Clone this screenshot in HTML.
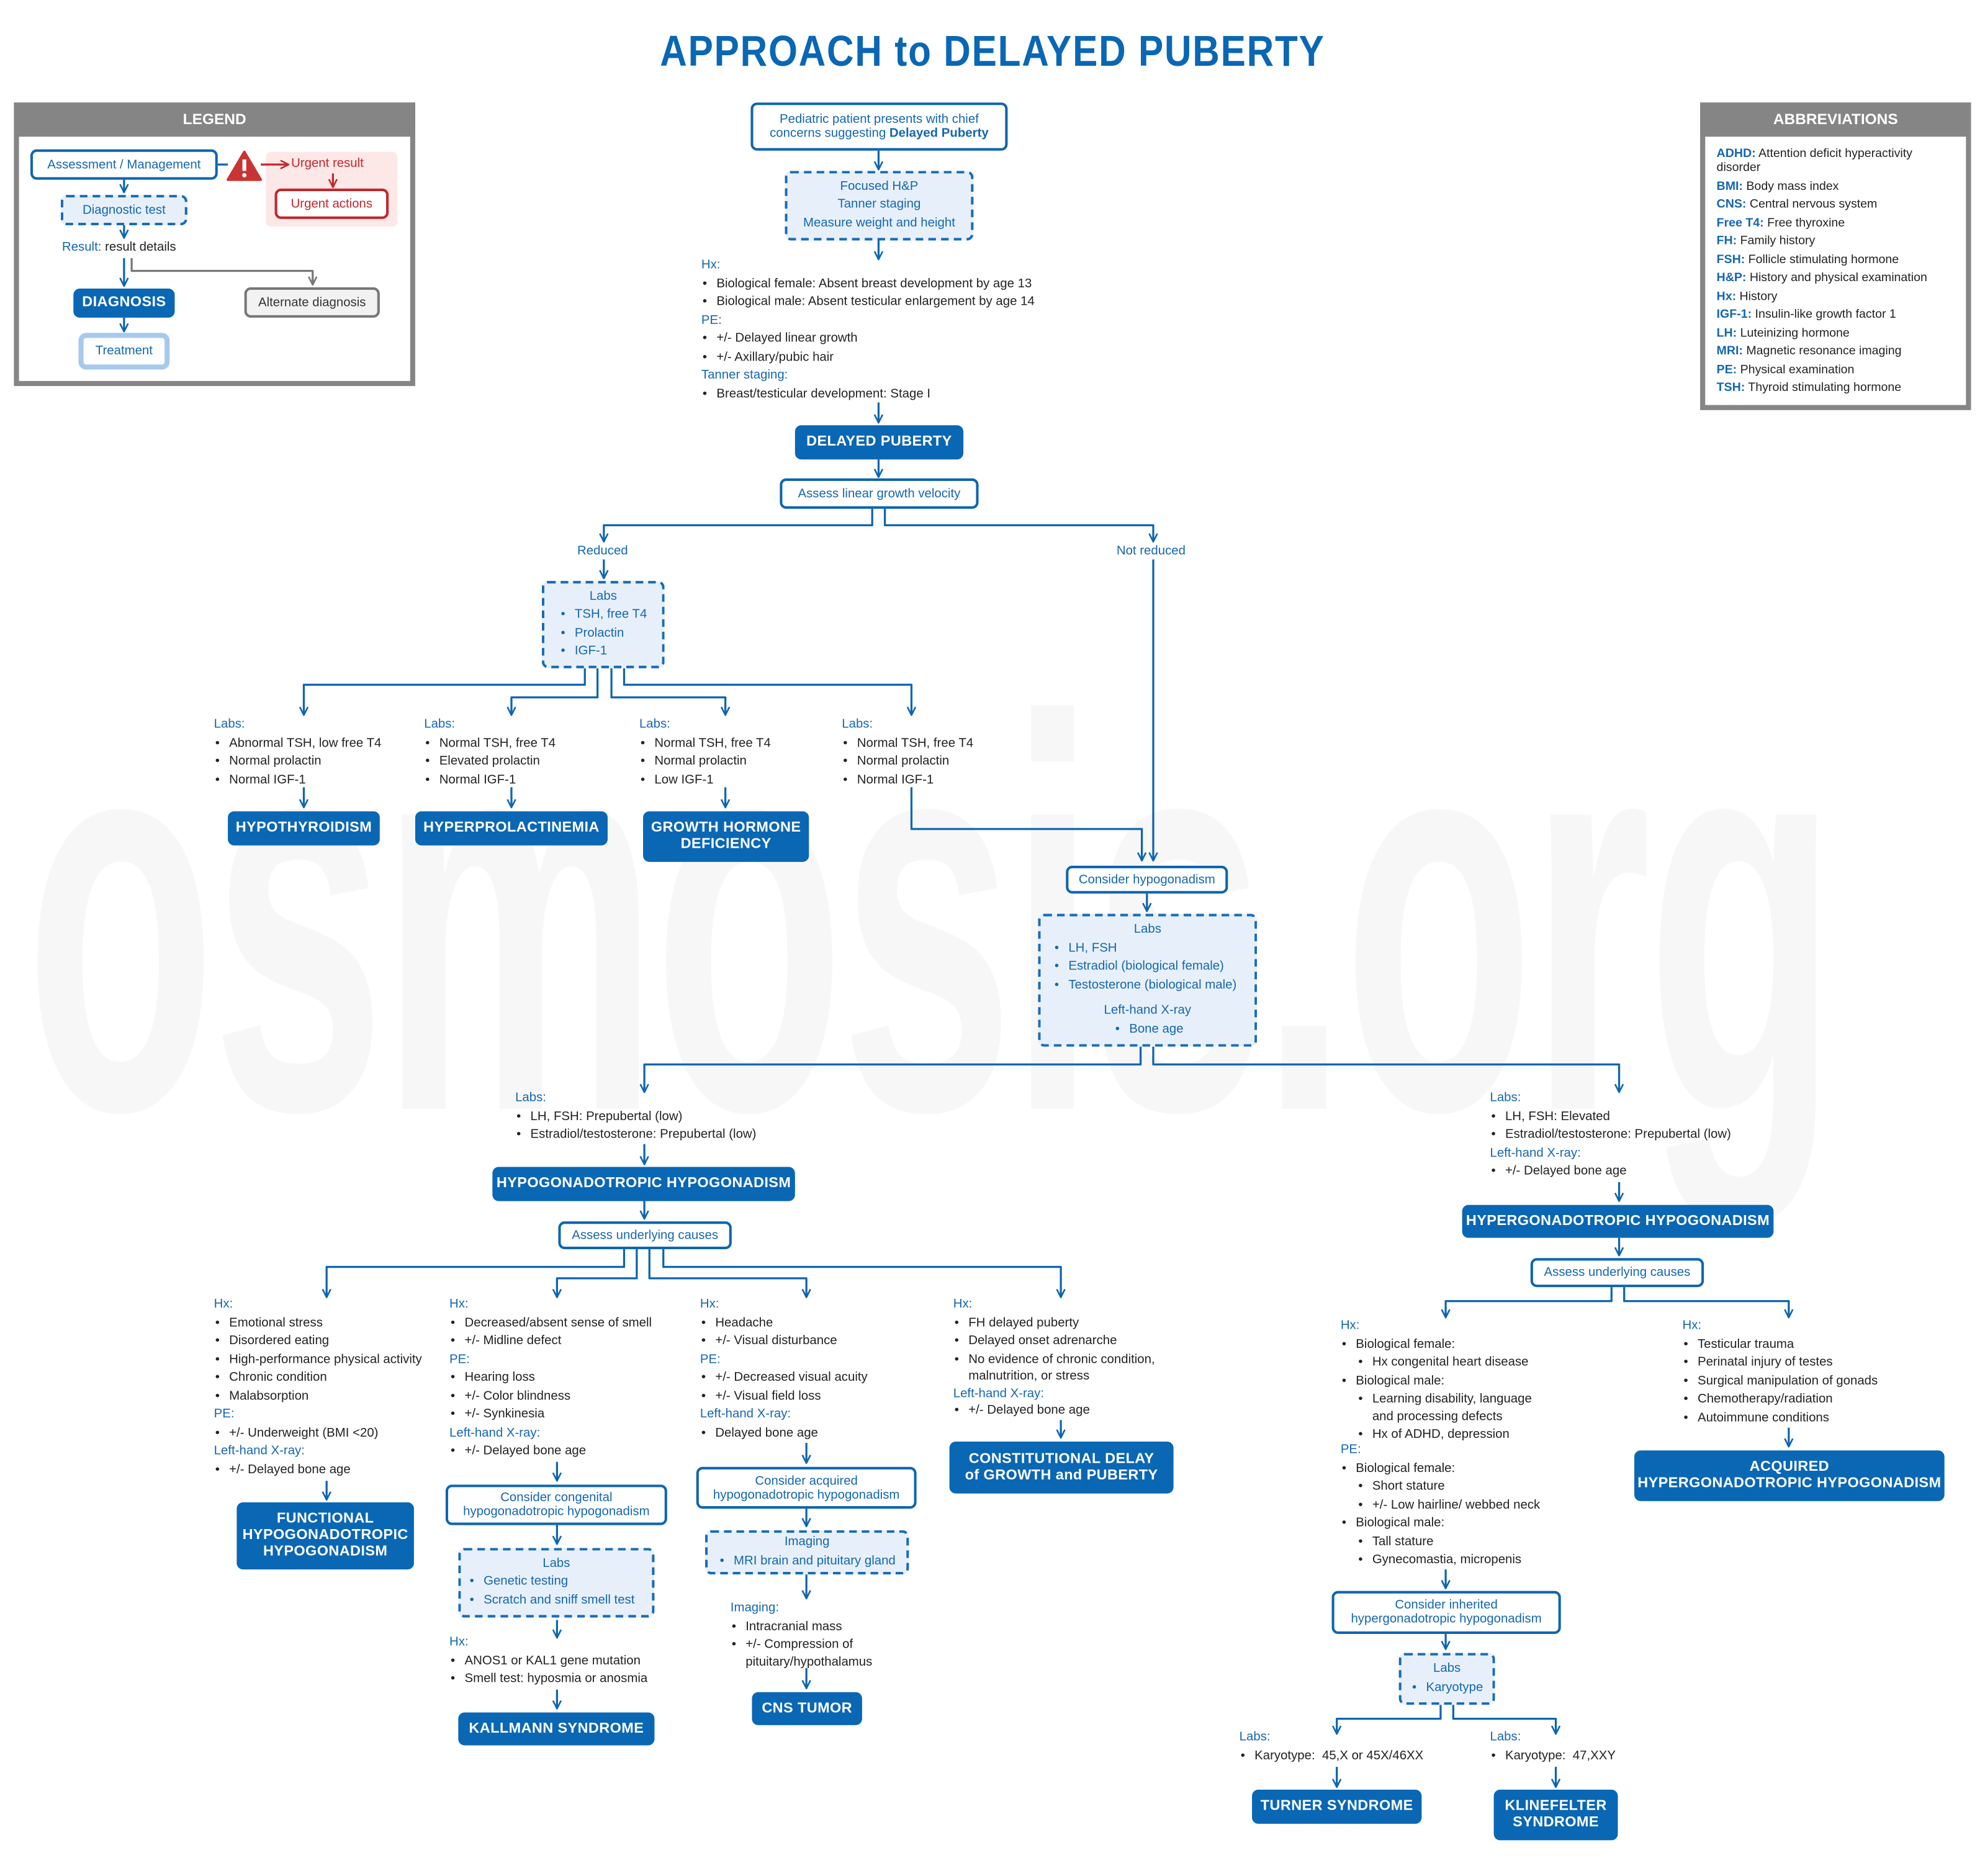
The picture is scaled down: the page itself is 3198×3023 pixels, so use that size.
<!DOCTYPE html>
<html><head><meta charset="utf-8"><style>
*{margin:0;padding:0;box-sizing:border-box}
html,body{width:3198px;height:3023px;overflow:hidden;background:#fff}
#s{position:absolute;left:0;top:0;width:1568px;height:1482px;overflow:hidden;transform:scale(2.0395);transform-origin:0 0;font-family:"Liberation Sans",sans-serif;color:#222}
.wm{position:absolute;left:20px;top:505px;font:bold 440px/1 "Liberation Sans",sans-serif;color:#f7f7f7;letter-spacing:-6px;white-space:nowrap;transform:scaleX(.56);transform-origin:0 0}
.blk{position:absolute;font-size:10px;line-height:14.5px;white-space:nowrap}
.blk div{height:14.5px}
.h{color:#1566b0}
.b{padding-left:12px;position:relative}
.b:before{content:"•";position:absolute;left:1px}
.sb{padding-left:25px;position:relative}
.sb:before{content:"•";position:absolute;left:14px}
.blk .c{padding-left:12px;height:11px;line-height:11px}
.blk .sc{padding-left:25px;height:11px;line-height:11px}
.bl{color:#1566b0}
.box{position:absolute;display:flex;flex-direction:column;align-items:center;justify-content:center;text-align:center;border:2px solid #0e65b0;border-radius:5px;background:#fff;color:#1566b0;font-size:10px;line-height:11px}
.dash{border:2px dashed #1a6cb6;background:#e7f0fa}
.fill{background:#0a67b4;border-color:#0a67b4;color:#fff;font-weight:bold;font-size:11.5px;line-height:13px;letter-spacing:.2px}
.lab{position:absolute;font-size:10px;color:#1566b0;white-space:nowrap}
</style></head><body><div id="s">
<div class="wm">osmosis.org</div>

<div style="position:absolute;left:0;top:22px;width:1568px;text-align:center;font:bold 34px/38px 'Liberation Sans',sans-serif;color:#0a67b4;letter-spacing:1px;transform:scaleX(.87)">APPROACH to DELAYED PUBERTY</div>

<!-- Legend -->
<div style="position:absolute;left:11px;top:81px;width:317px;height:224px;border:4px solid #858585;background:#fff"></div>
<div style="position:absolute;left:11px;top:81px;width:317px;height:27px;background:#858585;color:#fff;font-weight:bold;font-size:12px;line-height:27px;text-align:center">LEGEND</div>
<div class="box" style="left:24px;top:118px;width:148px;height:24px">Assessment / Management</div>
<div style="position:absolute;left:210px;top:120px;width:104px;height:59px;background:#fde8e8;border-radius:4px"></div>
<svg style="position:absolute;left:178px;top:118px" width="30" height="26"><path d="M15 2 L28 24 L2 24 Z" fill="#c83434" stroke="#c83434" stroke-linejoin="round" stroke-width="2"/><rect x="13.5" y="8" width="3" height="9" fill="#fff"/><circle cx="15" cy="20.5" r="1.7" fill="#fff"/></svg>
<div class="lab" style="left:230px;top:124px;color:#c3262b">Urgent result</div>
<div class="box" style="left:217px;top:149px;width:90px;height:24px;border-color:#c3262b;color:#c3262b">Urgent actions</div>
<div class="box dash" style="left:48px;top:154px;width:100px;height:24px">Diagnostic test</div>
<div class="lab" style="left:49px;top:190px;color:#222"><span class="bl">Result:</span> result details</div>
<div class="box fill" style="left:58px;top:228px;width:80px;height:23px">DIAGNOSIS</div>
<div class="box" style="left:62px;top:263px;width:72px;height:29px;border:4px solid #a6c9ee;border-radius:6px">Treatment</div>
<div class="box" style="left:193px;top:227px;width:107px;height:24px;border-color:#777;background:#f2f2f2;color:#333">Alternate diagnosis</div>

<!-- Abbreviations -->
<div style="position:absolute;left:1343px;top:81px;width:214px;height:243px;border:4px solid #858585;background:#fff"></div>
<div style="position:absolute;left:1343px;top:81px;width:214px;height:27px;background:#858585;color:#fff;font-weight:bold;font-size:12px;line-height:27px;text-align:center">ABBREVIATIONS</div>
<div class="blk" style="left:1356px;top:115px;font-size:9.6px">
<div><b class="bl">ADHD:</b> Attention deficit hyperactivity</div>
<div style="height:11px;line-height:6px">disorder</div>
<div><b class="bl">BMI:</b> Body mass index</div>
<div><b class="bl">CNS:</b> Central nervous system</div>
<div><b class="bl">Free T4:</b> Free thyroxine</div>
<div><b class="bl">FH:</b> Family history</div>
<div><b class="bl">FSH:</b> Follicle stimulating hormone</div>
<div><b class="bl">H&amp;P:</b> History and physical examination</div>
<div><b class="bl">Hx:</b> History</div>
<div><b class="bl">IGF-1:</b> Insulin-like growth factor 1</div>
<div><b class="bl">LH:</b> Luteinizing hormone</div>
<div><b class="bl">MRI:</b> Magnetic resonance imaging</div>
<div><b class="bl">PE:</b> Physical examination</div>
<div><b class="bl">TSH:</b> Thyroid stimulating hormone</div>
</div>

<!-- connectors -->
<svg style="position:absolute;left:0;top:0" width="1568" height="1482" fill="none" stroke="#0e65b0" stroke-width="1.6" stroke-linejoin="round">
<defs><marker id="a" viewBox="0 0 10 10" refX="9" refY="5" markerWidth="8" markerHeight="8" markerUnits="userSpaceOnUse" orient="auto"><path d="M1 1 L9 5 L1 9" fill="none" stroke="#0e65b0" stroke-width="1.6"/></marker>
<marker id="r" viewBox="0 0 10 10" refX="9" refY="5" markerWidth="8" markerHeight="8" markerUnits="userSpaceOnUse" orient="auto"><path d="M1 1 L9 5 L1 9" fill="none" stroke="#c3262b" stroke-width="1.6"/></marker>
<marker id="g" viewBox="0 0 10 10" refX="9" refY="5" markerWidth="8" markerHeight="8" markerUnits="userSpaceOnUse" orient="auto"><path d="M1 1 L9 5 L1 9" fill="none" stroke="#777" stroke-width="1.6"/></marker></defs>
<g marker-end="url(#a)">
<path d="M98 142V152"/><path d="M98 178V188"/><path d="M98 204V226"/><path d="M98 251V262"/>
<path d="M694 119V134"/><path d="M694 190V205"/><path d="M694 318V334"/><path d="M694 363V377"/>
<path d="M689 402V415H477V428"/><path d="M699 402V415H911V428"/>
<path d="M477 442V457"/>
<path d="M462 528V541H240V565"/><path d="M472 528V551H404V565"/><path d="M483 528V551H573V565"/><path d="M493 528V541H720V565"/>
<path d="M240 622V638"/><path d="M404 622V638"/><path d="M573 622V638"/>
<path d="M720 622V655H902V680"/><path d="M911 442V680"/>
<path d="M906 706V720"/>
<path d="M901 827V841H509V863"/><path d="M911 827V841H1279V863"/>
<path d="M509 904V920"/><path d="M509 949V963"/>
<path d="M493 987V1001H258V1025"/><path d="M503 987V1010H440V1025"/><path d="M513 987V1010H637V1025"/><path d="M524 987V1001H838V1025"/>
<path d="M258 1170V1185"/><path d="M440 1155V1170"/><path d="M440 1205V1220"/><path d="M440 1280V1294"/><path d="M440 1335V1350"/>
<path d="M637 1140V1156"/><path d="M637 1192V1206"/><path d="M637 1244V1263"/><path d="M637 1318V1334"/>
<path d="M838 1122V1136"/>
<path d="M1279 934V949"/><path d="M1279 978V992"/>
<path d="M1273 1017V1028H1142V1041"/><path d="M1283 1017V1028H1413V1041"/>
<path d="M1142 1240V1255"/><path d="M1142 1291V1303"/>
<path d="M1138 1347V1358H1056V1370"/><path d="M1148 1347V1358H1229V1370"/>
<path d="M1056 1396V1412"/><path d="M1229 1396V1412"/><path d="M1413 1128V1143"/>
</g>
<path d="M172 130H180"/>
<path d="M206 130H228" stroke="#c3262b" marker-end="url(#r)"/>
<path d="M263 137V148" stroke="#c3262b" marker-end="url(#r)"/>
<path d="M104 204V214H247V225" stroke="#777" marker-end="url(#g)"/>
</svg>

<!-- main nodes -->
<div class="box" style="left:593px;top:81px;width:203px;height:38px"><div>Pediatric patient presents with chief</div><div>concerns suggesting <b>Delayed Puberty</b></div></div>
<div class="box dash" style="left:620px;top:135px;width:149px;height:55px;line-height:14.5px"><div>Focused H&amp;P</div><div>Tanner staging</div><div>Measure weight and height</div></div>
<div class="blk" style="left:554px;top:203px">
<div class="h">Hx:</div><div class="b">Biological female: Absent breast development by age 13</div><div class="b">Biological male: Absent testicular enlargement by age 14</div>
<div class="h">PE:</div><div class="b">+/- Delayed linear growth</div><div class="b">+/- Axillary/pubic hair</div>
<div class="h">Tanner staging:</div><div class="b">Breast/testicular development: Stage I</div></div>
<div class="box fill" style="left:628px;top:336px;width:133px;height:27px">DELAYED PUBERTY</div>
<div class="box" style="left:616px;top:378px;width:157px;height:24px">Assess linear growth velocity</div>
<div class="lab" style="left:456px;top:430px">Reduced</div>
<div class="lab" style="left:882px;top:430px">Not reduced</div>
<div class="box dash" style="left:428px;top:459px;width:97px;height:69px;align-items:flex-start;padding-left:12px;line-height:14.5px"><div style="align-self:center;margin-left:-12px">Labs</div><div class="b">TSH, free T4</div><div class="b">Prolactin</div><div class="b">IGF-1</div></div>

<div class="blk" style="left:169px;top:566px"><div class="h">Labs:</div><div class="b">Abnormal TSH, low free T4</div><div class="b">Normal prolactin</div><div class="b">Normal IGF-1</div></div>
<div class="blk" style="left:335px;top:566px"><div class="h">Labs:</div><div class="b">Normal TSH, free T4</div><div class="b">Elevated prolactin</div><div class="b">Normal IGF-1</div></div>
<div class="blk" style="left:505px;top:566px"><div class="h">Labs:</div><div class="b">Normal TSH, free T4</div><div class="b">Normal prolactin</div><div class="b">Low IGF-1</div></div>
<div class="blk" style="left:665px;top:566px"><div class="h">Labs:</div><div class="b">Normal TSH, free T4</div><div class="b">Normal prolactin</div><div class="b">Normal IGF-1</div></div>
<div class="box fill" style="left:180px;top:641px;width:120px;height:27px">HYPOTHYROIDISM</div>
<div class="box fill" style="left:328px;top:641px;width:152px;height:27px">HYPERPROLACTINEMIA</div>
<div class="box fill" style="left:508px;top:641px;width:131px;height:40px"><div>GROWTH HORMONE</div><div>DEFICIENCY</div></div>

<div class="box" style="left:842px;top:684px;width:128px;height:22px">Consider hypogonadism</div>
<div class="box dash" style="left:820px;top:722px;width:173px;height:105px;line-height:14.5px;align-items:flex-start;padding-left:10px"><div style="align-self:center;margin-left:-10px">Labs</div><div class="b">LH, FSH</div><div class="b">Estradiol (biological female)</div><div class="b">Testosterone (biological male)</div><div style="align-self:center;margin-left:-10px;margin-top:6px">Left-hand X-ray</div><div class="b" style="margin-left:48px">Bone age</div></div>

<div class="blk" style="left:407px;top:861px"><div class="h">Labs:</div><div class="b">LH, FSH: Prepubertal (low)</div><div class="b">Estradiol/testosterone: Prepubertal (low)</div></div>
<div class="box fill" style="left:389px;top:922px;width:239px;height:27px">HYPOGONADOTROPIC HYPOGONADISM</div>
<div class="box" style="left:441px;top:965px;width:137px;height:22px">Assess underlying causes</div>

<div class="blk" style="left:169px;top:1024px"><div class="h">Hx:</div><div class="b">Emotional stress</div><div class="b">Disordered eating</div><div class="b">High-performance physical activity</div><div class="b">Chronic condition</div><div class="b">Malabsorption</div><div class="h">PE:</div><div class="b">+/- Underweight (BMI &lt;20)</div><div class="h">Left-hand X-ray:</div><div class="b">+/- Delayed bone age</div></div>
<div class="box fill" style="left:187px;top:1187px;width:140px;height:53px"><div>FUNCTIONAL</div><div>HYPOGONADOTROPIC</div><div>HYPOGONADISM</div></div>

<div class="blk" style="left:355px;top:1024px"><div class="h">Hx:</div><div class="b">Decreased/absent sense of smell</div><div class="b">+/- Midline defect</div><div class="h">PE:</div><div class="b">Hearing loss</div><div class="b">+/- Color blindness</div><div class="b">+/- Synkinesia</div><div class="h">Left-hand X-ray:</div><div class="b">+/- Delayed bone age</div></div>
<div class="box" style="left:352px;top:1173px;width:175px;height:32px"><div>Consider congenital</div><div>hypogonadotropic hypogonadism</div></div>
<div class="box dash" style="left:362px;top:1223px;width:155px;height:55px;line-height:14.5px;align-items:flex-start;padding-left:6px"><div style="align-self:center;margin-left:-6px">Labs</div><div class="b">Genetic testing</div><div class="b">Scratch and sniff smell test</div></div>
<div class="blk" style="left:355px;top:1291px"><div class="h">Hx:</div><div class="b">ANOS1 or KAL1 gene mutation</div><div class="b">Smell test: hyposmia or anosmia</div></div>
<div class="box fill" style="left:362px;top:1353px;width:155px;height:26px">KALLMANN SYNDROME</div>

<div class="blk" style="left:553px;top:1024px"><div class="h">Hx:</div><div class="b">Headache</div><div class="b">+/- Visual disturbance</div><div class="h">PE:</div><div class="b">+/- Decreased visual acuity</div><div class="b">+/- Visual field loss</div><div class="h">Left-hand X-ray:</div><div class="b">Delayed bone age</div></div>
<div class="box" style="left:550px;top:1159px;width:174px;height:33px"><div>Consider acquired</div><div>hypogonadotropic hypogonadism</div></div>
<div class="box dash" style="left:557px;top:1209px;width:161px;height:35px;line-height:14.5px"><div>Imaging</div><div class="b">MRI brain and pituitary gland</div></div>
<div class="blk" style="left:577px;top:1264px"><div class="h">Imaging:</div><div class="b">Intracranial mass</div><div class="b">+/- Compression of</div><div class="c">pituitary/hypothalamus</div></div>
<div class="box fill" style="left:594px;top:1337px;width:87px;height:26px">CNS TUMOR</div>

<div class="blk" style="left:753px;top:1024px"><div class="h">Hx:</div><div class="b">FH delayed puberty</div><div class="b">Delayed onset adrenarche</div><div class="b">No evidence of chronic condition,</div><div class="c">malnutrition, or stress</div><div class="h" style="line-height:17px">Left-hand X-ray:</div><div class="b">+/- Delayed bone age</div></div>
<div class="box fill" style="left:750px;top:1139px;width:177px;height:41px"><div>CONSTITUTIONAL DELAY</div><div>of GROWTH and PUBERTY</div></div>

<div class="blk" style="left:1177px;top:861px"><div class="h">Labs:</div><div class="b">LH, FSH: Elevated</div><div class="b">Estradiol/testosterone: Prepubertal (low)</div><div class="h">Left-hand X-ray:</div><div class="b">+/- Delayed bone age</div></div>
<div class="box fill" style="left:1155px;top:952px;width:246px;height:26px">HYPERGONADOTROPIC HYPOGONADISM</div>
<div class="box" style="left:1209px;top:994px;width:137px;height:23px">Assess underlying causes</div>

<div class="blk" style="left:1059px;top:1041px"><div class="h">Hx:</div><div class="b">Biological female:</div><div class="sb">Hx congenital heart disease</div><div class="b">Biological male:</div><div class="sb">Learning disability, language</div><div class="sc">and processing defects</div><div class="sb" style="line-height:17px">Hx of ADHD, depression</div><div class="h">PE:</div><div class="b">Biological female:</div><div class="sb">Short stature</div><div class="sb">+/- Low hairline/ webbed neck</div><div class="b">Biological male:</div><div class="sb">Tall stature</div><div class="sb">Gynecomastia, micropenis</div></div>
<div class="box" style="left:1052px;top:1257px;width:181px;height:34px"><div>Consider inherited</div><div>hypergonadotropic hypogonadism</div></div>
<div class="box dash" style="left:1105px;top:1306px;width:76px;height:41px;line-height:14.5px"><div>Labs</div><div class="b">Karyotype</div></div>
<div class="blk" style="left:979px;top:1366px"><div class="h">Labs:</div><div class="b">Karyotype:&nbsp; 45,X or 45X/46XX</div></div>
<div class="blk" style="left:1177px;top:1366px"><div class="h">Labs:</div><div class="b">Karyotype:&nbsp; 47,XXY</div></div>
<div class="box fill" style="left:989px;top:1414px;width:134px;height:27px">TURNER SYNDROME</div>
<div class="box fill" style="left:1180px;top:1414px;width:98px;height:40px"><div>KLINEFELTER</div><div>SYNDROME</div></div>

<div class="blk" style="left:1329px;top:1041px"><div class="h">Hx:</div><div class="b">Testicular trauma</div><div class="b">Perinatal injury of testes</div><div class="b">Surgical manipulation of gonads</div><div class="b">Chemotherapy/radiation</div><div class="b">Autoimmune conditions</div></div>
<div class="box fill" style="left:1291px;top:1146px;width:245px;height:40px"><div>ACQUIRED</div><div>HYPERGONADOTROPIC HYPOGONADISM</div></div>
</div></body></html>
